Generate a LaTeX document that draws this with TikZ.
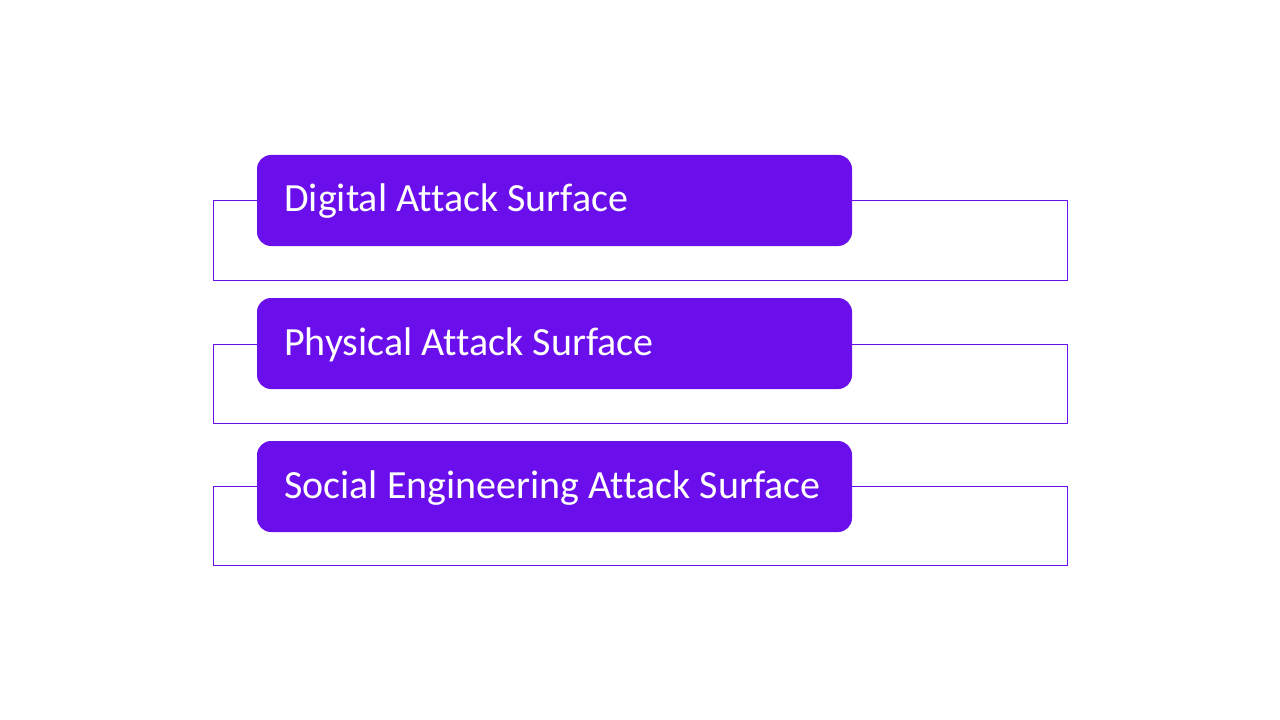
\documentclass[tikz,border=0pt]{standalone}
\usepackage{fontspec}
\setmainfont{Carlito}[Ligatures=NoCommon]
\definecolor{violetfill}{HTML}{6A0FEB}
\begin{document}
\begin{tikzpicture}[x=0.75pt,y=-0.75pt,
  outlinebox/.style={draw=violetfill,line width=0.75pt},
  labelbox/.style={fill=violetfill,rounded corners=10.5pt},
  labeltext/.style={anchor=base west,text=white,font=\fontsize{30pt}{36pt}\selectfont,inner sep=0pt}]
\useasboundingbox (0,0) rectangle (1280,720);
\foreach \i/\yo/\yb/\t in {a/201/155/Digital Attack Surface,b/344/298/Physical Attack Surface,c/486/441/Social Engineering Attack Surface}{
  \draw[outlinebox] (213,\yo) rectangle (1067,\yo+79);
  \fill[labelbox] (257,\yb) rectangle (852,\yb+91);
  \node[labeltext] (t\i) at (284,\yb+57) {\t};
}
\end{tikzpicture}
\end{document}
